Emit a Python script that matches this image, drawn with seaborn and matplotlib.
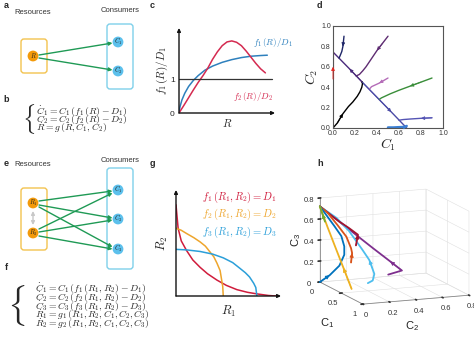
import numpy as np
import matplotlib
matplotlib.use('Agg')
import matplotlib.pyplot as plt
import seaborn as sns
from matplotlib.patches import FancyBboxPatch, Circle, FancyArrowPatch
from matplotlib.ticker import FormatStrFormatter
from mpl_toolkits.mplot3d import proj3d

# ---------------- data ----------------
# panel c
c_R_f1 = [0, 0.01, 0.03, 0.06, 0.10, 0.15, 0.20, 0.27, 0.35, 0.45, 0.55, 0.65, 0.75, 0.85, 0.92]
c_f1 = [0, 0.18, 0.38, 0.58, 0.78, 0.96, 1.10, 1.26, 1.38, 1.49, 1.57, 1.63, 1.67, 1.69, 1.70]
c_R_f2 = [0, 0.05, 0.10, 0.15, 0.20, 0.25, 0.30, 0.35, 0.40, 0.45, 0.50, 0.55, 0.60, 0.65, 0.70, 0.75, 0.80, 0.85, 0.90]
c_f2 = [0, 0.22, 0.45, 0.68, 0.90, 1.10, 1.32, 1.58, 1.80, 1.98, 2.09, 2.12, 2.08, 1.98, 1.82, 1.64, 1.46, 1.30, 1.18]
c_threshold = 1
c_yticks = [0, 1]

# panel d trajectories (C1, C2)
d_navy = ([0.10, 0.095, 0.09, 0.08, 0.065, 0.055], [0.90, 0.85, 0.80, 0.75, 0.71, 0.685])
d_purple = ([0.50, 0.45, 0.40, 0.35, 0.30, 0.27, 0.24, 0.21], [0.90, 0.83, 0.76, 0.68, 0.60, 0.56, 0.525, 0.51])
d_black = ([0, 0.04, 0.09, 0.14, 0.18, 0.22, 0.245, 0.262, 0.268, 0.262], [0, 0.05, 0.14, 0.21, 0.255, 0.31, 0.355, 0.40, 0.435, 0.455])
d_pink = ([0.50, 0.46, 0.42, 0.38, 0.35, 0.33], [0.49, 0.465, 0.44, 0.42, 0.405, 0.38])
d_green = ([0.90, 0.80, 0.70, 0.60, 0.52, 0.47, 0.44, 0.42], [0.49, 0.45, 0.41, 0.37, 0.335, 0.31, 0.295, 0.28])
d_bluep = ([0.90, 0.80, 0.70, 0.64, 0.62, 0.60], [0.10, 0.095, 0.088, 0.083, 0.08, 0.075])
d_lblue = ([0.50, 0.55, 0.60, 0.65, 0.67], [0.005, 0.005, 0.008, 0.01, 0.02])
d_red = ([0, 0, 0], [0.48, 0.60, 0.745])
d_diag_up = ([0.268, 0.15, 0.0], [0.447, 0.58, 0.745])
d_diag_low = ([0.268, 0.53, 0.67], [0.447, 0.157, 0.0])
d_ticks = [0.0, 0.2, 0.4, 0.6, 0.8, 1.0]

# panel g nullclines
g_R1_f1 = [0, 0.02, 0.05, 0.10, 0.16, 0.23, 0.30, 0.39, 0.48, 0.58, 0.68, 0.77, 0.88, 0.95]
g_R2_f1 = [0.86, 0.64, 0.52, 0.43, 0.34, 0.27, 0.21, 0.15, 0.10, 0.06, 0.035, 0.02, 0.005, 0.0]
g_R1_f2 = [0, 0.05, 0.10, 0.17, 0.23, 0.28, 0.32, 0.36, 0.39, 0.42, 0.43, 0.445, 0.45]
g_R2_f2 = [0.64, 0.62, 0.59, 0.55, 0.51, 0.47, 0.42, 0.37, 0.31, 0.24, 0.18, 0.09, 0.0]
g_R1_f3 = [0, 0.10, 0.23, 0.35, 0.45, 0.54, 0.61, 0.66, 0.70, 0.74, 0.76, 0.77]
g_R2_f3 = [0.44, 0.435, 0.42, 0.395, 0.36, 0.315, 0.26, 0.22, 0.18, 0.12, 0.08, 0.0]

# panel h trajectories (C1, C2, C3)
h_gold = ([0.74, 0.55, 0.37, 0.18, 0.0], [0, 0, 0, 0, 0], [0.09, 0.25, 0.40, 0.56, 0.72])
h_blue = ([0, 0, 0, 0, 0, 0, 0, 0, 0], [0, 0.074, 0.147, 0.184, 0.184, 0.162, 0.11, 0.05, 0], [0, 0.057, 0.14, 0.24, 0.32, 0.42, 0.52, 0.63, 0.72])
h_orange = ([0, 0, 0, 0, 0, 0, 0], [0.235, 0.243, 0.235, 0.20, 0.132, 0.06, 0], [0.161, 0.25, 0.297, 0.41, 0.53, 0.65, 0.72])
h_dred = ([0, 0, 0, 0, 0], [0.272, 0.287, 0.22, 0.147, 0], [0.32, 0.42, 0.49, 0.56, 0.72])
h_cyan = ([0.20, 0.18, 0.15, 0.12, 0.09, 0.06, 0.03, 0.01, 0], [0.297, 0.34, 0.362, 0.356, 0.343, 0.30, 0.21, 0.122, 0], [0.0, 0.016, 0.07, 0.12, 0.193, 0.29, 0.47, 0.60, 0.72])
h_purple = ([0, 0, 0, 0, 0, 0], [0.515, 0.618, 0.53, 0.40, 0.20, 0], [0.016, 0.044, 0.14, 0.28, 0.50, 0.72])
h_green = ([0.12, 0.06, 0.0], [0, 0, 0], [0.60, 0.66, 0.72])
h_c1_ticks = [0, 0.5, 1]
h_c2_ticks = [0, 0.2, 0.4, 0.6, 0.8]
h_c3_ticks = [0, 0.2, 0.4, 0.6, 0.8]

# ---------------- style ----------------
sns.set_theme(style='white')
plt.rcParams['font.family'] = ['Liberation Sans', 'DejaVu Sans']
plt.rcParams['mathtext.fontset'] = 'cm'
plt.rcParams['grid.color'] = '#e0e0e0'
plt.rcParams['grid.linewidth'] = 0.4

W, H = 474, 338
fig = plt.figure(figsize=(W / 100, H / 100), dpi=100)


def pos(l, t, r, b):
    return [l / W, 1 - b / H, (r - l) / W, (b - t) / H]


ov = fig.add_axes([0, 0, 1, 1])
ov.set_xlim(0, W)
ov.set_ylim(H, 0)
ov.axis('off')

# panel letters
for lab, x, y in [('a', 6, 6), ('b', 6, 100), ('c', 152, 6), ('d', 319, 6),
                  ('e', 6, 164), ('f', 6, 268), ('g', 152, 164), ('h', 320, 163)]:
    ov.text(x, y, lab, fontsize=6.5, fontweight='bold', ha='center', va='center')

YEL = '#f3c34f'
CYA = '#7fd0ea'
ORG = '#f39a0a'
CBL = '#5cc0ec'
GRN = '#1f9a55'


def box(x, y, w, h, ec):
    ov.add_patch(FancyBboxPatch((x, y), w, h, boxstyle='round,pad=0,rounding_size=3',
                                ec=ec, fc='white', lw=1.0))


def node(x, y, fc, lab):
    ov.add_patch(Circle((x, y), 5.4, fc=fc, ec='none'))
    ov.text(x, y, lab, fontsize=4.5, ha='center', va='center', color='#222222')


def arr(x0, y0, x1, y1, color=GRN, style='-|>'):
    ov.annotate('', xy=(x1, y1), xytext=(x0, y0),
                arrowprops=dict(arrowstyle=style, color=color, lw=1.0, mutation_scale=5,
                                shrinkA=0, shrinkB=0))


# panel a
ov.text(33, 12, 'Resources', fontsize=5.5, ha='center', va='center', color='#333333')
ov.text(120, 10, 'Consumers', fontsize=5.5, ha='center', va='center', color='#333333')
box(21, 39, 26, 34, YEL)
box(107, 24, 26, 65, CYA)
node(33, 56, ORG, r'$R$')
node(118, 42, CBL, r'$C_1$')
node(118, 71, CBL, r'$C_2$')
arr(39, 55, 112.5, 43)
arr(39, 58, 112.5, 70)

# panel b
ov.text(29, 119.5, r'$\{$', fontsize=17, ha='center', va='center')
b_lines = [r'$\dot{C}_1 = C_1\,(f_1\,(R) - D_1)$',
           r'$\dot{C}_2 = C_2\,(f_2\,(R) - D_2)$',
           r'$\dot{R} = g\,(R, C_1, C_2)$']
ov.text(36, 119.5, '\n'.join(b_lines), fontsize=7, va='center', ha='left', linespacing=0.4)

# panel e
ov.text(33, 164, 'Resources', fontsize=5.5, ha='center', va='center', color='#333333')
ov.text(120, 161, 'Consumers', fontsize=5.5, ha='center', va='center', color='#333333')
box(21, 188, 26, 62, YEL)
box(107, 168, 26, 101, CYA)
node(33, 203, ORG, r'$R_1$')
node(33, 233, ORG, r'$R_2$')
node(118, 190, CBL, r'$C_1$')
node(118, 219, CBL, r'$C_2$')
node(118, 249, CBL, r'$C_3$')
arr(33, 211, 33, 225, color='#c8c8c8', style='<|-|>')
arr(39, 201, 112.5, 191)
arr(39, 205, 112.5, 218)
arr(39, 207, 112.5, 247)
arr(39, 229, 112.5, 193)
arr(39, 232, 112.5, 220)
arr(39, 236, 112.5, 249)

# panel f
ov.text(16, 305.5, r'$\{$', fontsize=25, ha='center', va='center')
f_lines = [r'$\dot{C}_1 = C_1\,(f_1\,(R_1, R_2) - D_1)$',
           r'$\dot{C}_2 = C_2\,(f_2\,(R_1, R_2) - D_2)$',
           r'$\dot{C}_3 = C_3\,(f_3\,(R_1, R_2) - D_3)$',
           r'$\dot{R}_1 = g_1\,(R_1, R_2, C_1, C_2, C_3)$',
           r'$\dot{R}_2 = g_2\,(R_1, R_2, C_1, C_2, C_3)$']
ov.text(35, 305.5, '\n'.join(f_lines), fontsize=7, va='center', ha='left', linespacing=0.44)


def arrow_axes(ax):
    for sp in ax.spines.values():
        sp.set_visible(False)
    kw = dict(arrowstyle='-|>', color='#111111', lw=1.0, mutation_scale=5, shrinkA=0, shrinkB=0)
    ax.annotate('', xy=(1, 0), xytext=(0, 0), xycoords='axes fraction', arrowprops=kw, annotation_clip=False)
    ax.annotate('', xy=(0, 1), xytext=(0, 0), xycoords='axes fraction', arrowprops=kw, annotation_clip=False)
    ax.set_xticks([])


# panel c
axc = fig.add_axes(pos(179, 28, 275, 113))
axc.set_facecolor('none')
BLUE_C = '#2e80bd'
RED_C = '#d42a50'
sns.lineplot(x=c_R_f1, y=c_f1, sort=False, estimator=None, color=BLUE_C, lw=1.1, ax=axc)
sns.lineplot(x=c_R_f2, y=c_f2, sort=False, estimator=None, color=RED_C, lw=1.1, ax=axc)
axc.axhline(c_threshold, xmin=0, xmax=0.97, color='#333333', lw=0.9)
axc.set_xlim(0, 1)
axc.set_ylim(0, 2.5)
arrow_axes(axc)
axc.set_yticks(c_yticks)
axc.set_yticklabels(['0', '1'], fontsize=6)
axc.tick_params(axis='y', length=0, pad=3)
axc.set_ylabel(r'$f_1\,(R)/D_1$', fontsize=8, labelpad=0)
axc.set_xlabel(r'$R$', fontsize=8, labelpad=3)
axc.text(0.77, 2.0, r'$f_1\,(R)/D_1$', color=BLUE_C, fontsize=6.5)
axc.text(0.56, 0.40, r'$f_2\,(R)/D_2$', color=RED_C, fontsize=6.5)

# panel d
axd = fig.add_axes(pos(333, 26, 443, 128))


def traj(ax, xy, color, lw=1.0, ai=None):
    sns.lineplot(x=xy[0], y=xy[1], sort=False, estimator=None, color=color, lw=lw, ax=ax)
    if ai is not None:
        ax.annotate('', xy=(xy[0][ai + 1], xy[1][ai + 1]), xytext=(xy[0][ai], xy[1][ai]),
                    arrowprops=dict(arrowstyle='-|>', color=color, lw=0.6, mutation_scale=5,
                                    shrinkA=0, shrinkB=0))


traj(axd, d_diag_up, '#4a2a7c', ai=0)
traj(axd, d_diag_low, '#4b4ba6', ai=0)
traj(axd, d_navy, '#1e2668', ai=1)
traj(axd, d_purple, '#5e2c72', ai=1)
traj(axd, d_black, '#000000', ai=1)
traj(axd, d_pink, '#b46cb8', ai=1)
traj(axd, d_green, '#3a8e3a', ai=1)
traj(axd, d_bluep, '#5454b4', ai=0)
traj(axd, d_lblue, '#3a7fd5', lw=1.8, ai=3)
traj(axd, d_red, '#e3241f', lw=1.5, ai=0)
axd.set_xlim(0, 1)
axd.set_ylim(0, 1)
axd.set_xticks(d_ticks)
axd.set_yticks(d_ticks)
axd.xaxis.set_major_formatter(FormatStrFormatter('%.1f'))
axd.yaxis.set_major_formatter(FormatStrFormatter('%.1f'))
axd.tick_params(labelsize=5, length=2, width=0.6, direction='in', pad=1.5, colors='#333333')
for sp in axd.spines.values():
    sp.set_color('#555555')
    sp.set_linewidth(0.8)
axd.set_xlabel(r'$C_1$', fontsize=10, labelpad=0)
axd.set_ylabel(r'$C_2$', fontsize=10, labelpad=1)

# panel g
axg = fig.add_axes(pos(176, 190, 281, 296))
axg.set_facecolor('none')
RED_G = '#d01c3c'
ORA_G = '#eea52c'
BLU_G = '#2b9fd9'
sns.lineplot(x=g_R1_f1, y=g_R2_f1, sort=False, estimator=None, color=RED_G, lw=1.1, ax=axg)
sns.lineplot(x=g_R1_f2, y=g_R2_f2, sort=False, estimator=None, color=ORA_G, lw=1.1, ax=axg)
sns.lineplot(x=g_R1_f3, y=g_R2_f3, sort=False, estimator=None, color=BLU_G, lw=1.1, ax=axg)
axg.set_xlim(0, 1)
axg.set_ylim(0, 1)
arrow_axes(axg)
axg.set_yticks([])
axg.set_xlabel(r'$R_1$', fontsize=9, labelpad=6)
axg.set_ylabel(r'$R_2$', fontsize=9, labelpad=4)
axg.text(0.25, 0.93, r'$f_1\,(R_1, R_2) = D_1$', color=RED_G, fontsize=7.6, va='center')
axg.text(0.25, 0.77, r'$f_2\,(R_1, R_2) = D_2$', color=ORA_G, fontsize=7.6, va='center')
axg.text(0.25, 0.60, r'$f_3\,(R_1, R_2) = D_3$', color=BLU_G, fontsize=7.6, va='center')


# panel h
class Arrow3D(FancyArrowPatch):
    def __init__(self, xs, ys, zs, *args, **kwargs):
        super().__init__((0, 0), (0, 0), *args, **kwargs)
        self._verts3d = xs, ys, zs

    def do_3d_projection(self, renderer=None):
        xs3d, ys3d, zs3d = self._verts3d
        xs, ys, zs = proj3d.proj_transform(xs3d, ys3d, zs3d, self.axes.M)
        self.set_positions((xs[0], ys[0]), (xs[1], ys[1]))
        return np.min(zs)


ax3 = fig.add_axes(pos(293, 160, 491, 338), projection='3d')
ax3.set_facecolor('none')
ax3.set_proj_type('ortho')
for axis in (ax3.xaxis, ax3.yaxis, ax3.zaxis):
    axis.set_pane_color((1, 1, 1, 0))
    axis.line.set_color('#888888')
    axis.line.set_linewidth(0.6)
ax3.grid(True)


def traj3(xyz, color, ai=None):
    ax3.plot(xyz[0], xyz[1], xyz[2], color=color, lw=1.3)
    if ai is not None:
        a = Arrow3D([xyz[0][ai], xyz[0][ai + 1]], [xyz[1][ai], xyz[1][ai + 1]], [xyz[2][ai], xyz[2][ai + 1]],
                    arrowstyle='-|>', color=color, lw=0.6, mutation_scale=6, shrinkA=0, shrinkB=0)
        ax3.add_artist(a)


traj3(h_purple, '#7e2f8e', ai=1)
traj3(h_cyan, '#4dbeee', ai=3)
traj3(h_dred, '#a2142f', ai=0)
traj3(h_orange, '#d95319', ai=0)
traj3(h_blue, '#0072bd', ai=0)
traj3(h_gold, '#edb120', ai=0)
traj3(h_green, '#77ac30', ai=0)
ax3.set_xlim(0, 1)
ax3.set_ylim(0, 0.8)
ax3.set_zlim(0, 0.8)
ax3.set_xticks(h_c1_ticks)
ax3.set_yticks(h_c2_ticks)
ax3.set_zticks(h_c3_ticks)
ax3.set_xticklabels(['0', '0.5', '1'])
ax3.set_yticklabels(['0', '0.2', '0.4', '0.6', '0.8'])
ax3.set_zticklabels(['0', '0.2', '0.4', '0.6', '0.8'])
ax3.tick_params(labelsize=5.5, pad=-3, colors='#333333')
ax3.zaxis.set_ticks_position('lower')
ax3.set_xlabel('')
ax3.set_ylabel('')
ax3.set_zlabel('')
ax3.view_init(elev=12, azim=-22)
ov.text(327, 323, r'C$_\mathregular{1}$', fontsize=8, ha='center', va='center', color='#222222')
ov.text(412, 326, r'C$_\mathregular{2}$', fontsize=8, ha='center', va='center', color='#222222')
ov.text(296, 240, r'C$_\mathregular{3}$', fontsize=8, ha='center', va='center', rotation=90, color='#222222')

fig.savefig('out.png', dpi=100)
